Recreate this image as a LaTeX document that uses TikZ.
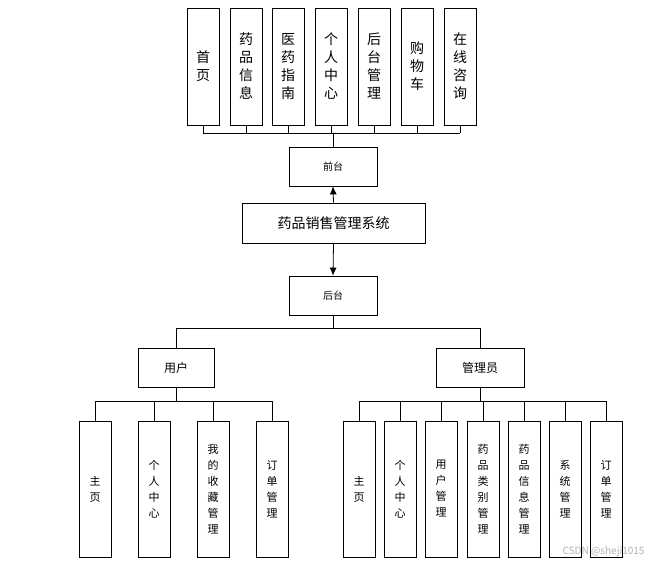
\documentclass[tikz,border=0pt]{standalone}
\usepackage{fontspec}
\setmainfont{Noto Sans CJK SC}
\usetikzlibrary{arrows.meta}
\begin{document}
\begin{tikzpicture}[x=1pt,y=-1pt,
  box/.style={draw,thick,inner sep=0pt,align=center},
  tb/.style={box,minimum width=32pt,minimum height=117pt,font=\fontsize{14}{18}\selectfont},
  bb/.style={box,minimum width=32pt,minimum height=136pt,font=\fontsize{11}{16}\selectfont},
  hb/.style={box,minimum height=39pt},
  ln/.style={thick}]
\useasboundingbox (0,0) rectangle (662,569);
% top
\foreach \n/\x/\t in {t1/203/首\\页, t2/246/药\\品\\信\\息, t3/288/医\\药\\指\\南, t4/331/个\\人\\中\\心, t5/374/后\\台\\管\\理, t6/417/购\\物\\车, t7/460/在\\线\\咨\\询}
  \node[tb] (\n) at (\x,66.5) {\t};
\node[hb,minimum width=88pt,font=\fontsize{10}{12}\selectfont] (qt) at (333,166.5) {前台};
\node[hb,minimum width=183pt,minimum height=40pt,font=\fontsize{14}{16}\selectfont] (sys) at (333.5,223) {药品销售管理系统};
\node[hb,minimum width=88pt,font=\fontsize{10}{12}\selectfont] (ht) at (333,295.5) {后台};
\coordinate (tbus) at (333,133);
\foreach \n in {t1,t2,t3,t4,t5,t6,t7} \draw[ln] (\n.south) -- (\n.south |- tbus);
\draw[ln] (t1.south |- tbus) -- (t7.south |- tbus);
\draw[ln] (tbus) -- (qt.north);
\draw[ln,-{Latex[length=8pt,width=7pt]}] (sys.north) -- (qt.south);
\draw[ln,-{Latex[length=8pt,width=7pt]}] (sys.south) -- (ht.north);
% middle
\node[hb,minimum width=76pt,font=\fontsize{12}{14}\selectfont] (yh) at (176,367.5) {用户};
\node[hb,minimum width=88pt,font=\fontsize{12}{14}\selectfont] (gl) at (480,367.5) {管理员};
\coordinate (mbus) at (333,328);
\draw[ln] (ht.south) -- (mbus);
\draw[ln] (yh.north) -- (yh.north |- mbus) -- (gl.north |- mbus) -- (gl.north);
% user leaves
\coordinate (ubus) at (176,401);
\foreach \n/\x/\t in {u1/95/主\\页, u2/154/个\\人\\中\\心, u3/213/我\\的\\收\\藏\\管\\理, u4/272/订\\单\\管\\理}
  \node[bb] (\n) at (\x,489) {\t};
\draw[ln] (yh.south) -- (ubus);
\foreach \n in {u1,u2,u3,u4} \draw[ln] (\n.north) -- (\n.north |- ubus);
\draw[ln] (u1.north |- ubus) -- (u4.north |- ubus);
% admin leaves
\coordinate (abus) at (480,401);
\foreach \n/\x/\t in {a1/359/主\\页, a2/400/个\\人\\中\\心, a3/441/用\\户\\管\\理, a4/483/药\\品\\类\\别\\管\\理, a5/524/药\\品\\信\\息\\管\\理, a6/565/系\\统\\管\\理, a7/606/订\\单\\管\\理}
  \node[bb] (\n) at (\x,489) {\t};
\draw[ln] (gl.south) -- (abus);
\foreach \n in {a1,a2,a3,a4,a5,a6,a7} \draw[ln] (\n.north) -- (\n.north |- abus);
\draw[ln] (a1.north |- abus) -- (a7.north |- abus);
\node[text=gray!60,font=\fontsize{10}{12}\selectfont,anchor=east] (wm) at (648,552) {CSDN @sheji1015};
\end{tikzpicture}
\end{document}
